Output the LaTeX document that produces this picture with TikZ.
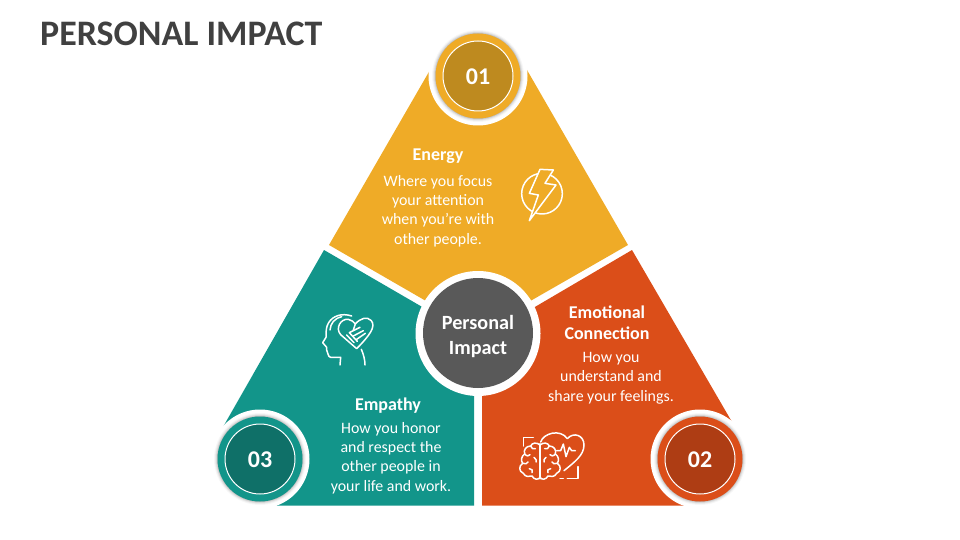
\documentclass[tikz,border=0pt]{standalone}
\usepackage{fontspec}
\setmainfont{Carlito}
\definecolor{amber}{HTML}{EFAB27}
\definecolor{amberdark}{HTML}{BE8A1F}
\definecolor{rust}{HTML}{DB4E19}
\definecolor{rustdark}{HTML}{AE3D14}
\definecolor{teal}{HTML}{12958A}
\definecolor{tealdark}{HTML}{0F7068}
\definecolor{slate}{HTML}{595959}
\definecolor{titlegrey}{HTML}{404040}
\tikzset{
  badge/.style={circle,draw=white,line width=1pt,minimum size=70pt,inner sep=0pt},
  badgetext/.style={text=white,inner sep=0pt,font=\bfseries\fontsize{24}{24}\selectfont},
  heading/.style={text=white,align=center,inner sep=0pt,font=\bfseries\fontsize{18}{21}\selectfont},
  bodytext/.style={text=white,align=center,inner sep=0pt,font=\fontsize{15.9}{19.4}\selectfont},
  icon/.style={draw=white,line width=1.5pt,line join=round,line cap=round}
}
\begin{document}
\begin{tikzpicture}[x=1pt,y=-1pt]
\useasboundingbox (0,0) rectangle (960,540);
\fill[amber] (430,70) -- (329,245) -- (478,331) -- (628,245) -- (527,70) -- cycle;
\fill[teal] (324,250) -- (223,427) -- (277,505.5) -- (474,505.5) -- (474,337) -- cycle;
\fill[rust] (632,250) -- (732,422) -- (685,505.5) -- (482,505.5) -- (482,338) -- cycle;
\fill[white] (478,333.5) circle (62.5);
\node[circle,fill=slate,minimum size=110pt,inner sep=0pt] (centre) at (478,333) {};
\node[text=white,align=center,inner sep=0pt,font=\bfseries\fontsize{20.2}{25}\selectfont] (centretext) at (478,336) {Personal\\Impact};
\foreach \name/\px/\py/\ringcol/\darkcol/\num in {one/478/76/amber/amberdark/01,two/700/459/rust/rustdark/02,three/260/459/teal/tealdark/03} {
  \fill[white] (\px,\py) circle (49.5);
  \foreach \r/\o in {46/.03,45/.05,44/.08,43/.12} \fill[black,opacity=\o] (\px,\py) circle (\r);
  \fill[\ringcol] (\px,\py) circle (42.5);
  \node[badge,fill=\darkcol] (\name) at (\px,\py) {};
  \node[badgetext] (\name text) at (\px,\py+0.8) {\num};
}
\node[anchor=base west,inner sep=0pt,text=titlegrey,font=\bfseries\fontsize{35.9}{36}\selectfont] (title) at (40,46) {PERSONAL IMPACT};
\node[heading] (energy) at (438,156) {Energy};
\node[bodytext] (energytext) at (438,211) {Where you focus\\your attention\\when you’re with\\other people.};
\node[heading] (emotional) at (607,323) {Emotional\\Connection};
\node[bodytext] (emotionaltext) at (611,378) {How you\\understand and\\share your feelings.};
\node[heading] (empathy) at (388,406) {Empathy};
\node[bodytext] (empathytext) at (391,458) {How you honor\\and respect the\\other people in\\your life and work.};
\begin{scope}[shift={(500,150)},scale=1/3]
\draw[icon] (126,131) circle (61);
\draw[icon,fill=amber] (120,58) -- (160,60) -- (135,100) -- (168,105) -- (88,212) -- (115,135) -- (88,130) -- cycle;
\end{scope}
\begin{scope}[shift={(310,300)},scale=1/3]
\draw[icon] (90,195) -- (92,172) -- (62,172) .. controls (52,170) and (56,158) .. (50,150) -- (50,142) -- (38,128) -- (48,112) .. controls (48,95) and (48,80) .. (56,68) .. controls (68,48) and (95,38) .. (125,48);
\draw[icon] (60,90) .. controls (62,70) and (72,56) .. (95,50);
\draw[icon] (165,195) .. controls (165,178) and (160,162) .. (154,148);
\draw[icon] (140,146) -- (92,104) .. controls (75,85) and (92,55) .. (115,58) .. controls (125,60) and (132,66) .. (136,72) .. controls (150,55) and (172,48) .. (184,62) .. controls (198,80) and (180,105) .. (140,146);
\draw[icon] (118,98) -- (150,82) (160,92) -- (130,108) (166,100) -- (140,118);
\draw[icon] (110,105) -- (132,128) (118,98) -- (142,124) (130,90) -- (136,72);
\end{scope}
\begin{scope}[shift={(510,420)},scale=1/3]
\foreach \s/\c in {1/0,-1/180} {
  \begin{scope}[shift={(\c,0)},xscale=\s]
  \draw[icon] (90,75) .. controls (80,66) and (66,68) .. (62,78) .. controls (48,78) and (40,90) .. (44,102) .. controls (34,108) and (32,122) .. (38,130) .. controls (26,138) and (26,154) .. (40,160) .. controls (46,172) and (58,170) .. (66,168) .. controls (72,180) and (86,180) .. (90,172);
  \draw[icon] (90,72) -- (90,176);
  \draw[icon] (62,78) .. controls (64,86) and (70,88) .. (76,86) (44,102) .. controls (50,110) and (58,108) .. (60,104) (38,130) .. controls (46,134) and (52,130) .. (54,126) (72,112) .. controls (78,116) and (80,122) .. (78,126) (58,146) .. controls (66,146) and (70,152) .. (66,158);
  \end{scope}
}
\draw[icon] (92,66) .. controls (100,40) and (150,25) .. (172,56) .. controls (190,35) and (222,45) .. (222,75) .. controls (222,105) and (195,125) .. (162,152);
\draw[icon] (140,92) -- (152,92) -- (160,72) -- (168,110) -- (178,82) -- (185,92) -- (196,92);
\draw[icon] (40,78) -- (40,52) -- (70,52);
\draw[icon] (204,140) -- (204,175) -- (172,175) (160,175) -- (150,175);
\end{scope}
\end{tikzpicture}
\end{document}
